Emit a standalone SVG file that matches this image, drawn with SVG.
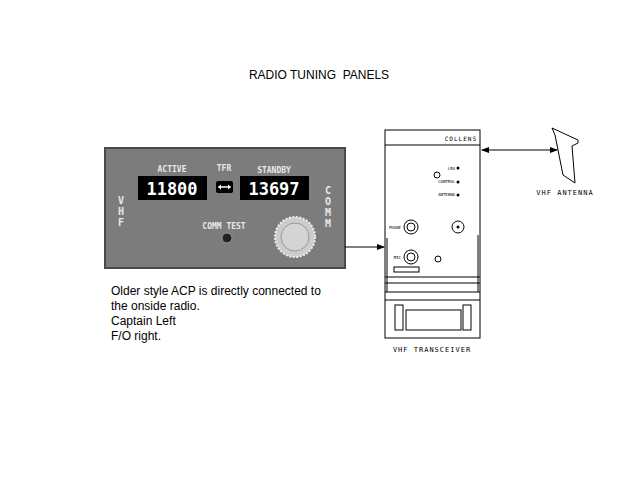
<svg xmlns="http://www.w3.org/2000/svg" width="638" height="478" viewBox="0 0 638 478">
<defs>
<style>
.t{font-family:"Liberation Sans",Arial,sans-serif;fill:#000}
.p{font-family:"DejaVu Sans Mono",monospace;font-weight:bold;fill:#e8e8e8;font-size:8px}
.v{font-family:"DejaVu Sans Mono",monospace;font-weight:bold;fill:#e8e8e8;font-size:10px}
.d{font-family:"DejaVu Sans Mono",monospace;font-weight:bold;fill:#fff;font-size:17px}
.s{font-family:"DejaVu Sans Mono",monospace;font-size:4px;fill:#000}
.m{font-family:"DejaVu Sans Mono",monospace;font-size:7px;fill:#000;letter-spacing:1px}
.ln{stroke:#000;stroke-width:1;fill:none}
</style>
<marker id="ah" markerWidth="8" markerHeight="6" refX="7" refY="3" orient="auto-start-reverse"><path d="M0,0L8,3L0,6z" fill="#000"/></marker>
</defs>
<rect width="638" height="478" fill="#fff"/>
<text class="t" x="319" y="79" font-size="12" text-anchor="middle" xml:space="preserve">RADIO TUNING  PANELS</text>
<g id="acp">
<rect x="105" y="148" width="240" height="120" fill="#7c7c7c" stroke="#4a4a4a" stroke-width="2"/>
<rect x="138" y="176" width="69" height="24" fill="#000"/>
<rect x="240" y="176" width="69" height="24" fill="#000"/>
<text class="d" x="172" y="195" text-anchor="middle">11800</text>
<text class="d" x="274" y="195" text-anchor="middle">13697</text>
<rect x="216" y="181" width="17" height="12" rx="2" fill="#000"/>
<path d="M218.5,187h12" stroke="#fff" stroke-width="1.5"/>
<path d="M218,187l3,-2.5v5z M231,187l-3,-2.5v5z" fill="#fff"/>
<text class="p" x="172" y="172" text-anchor="middle">ACTIVE</text>
<text class="p" x="224" y="171" text-anchor="middle">TFR</text>
<text class="p" x="274" y="173" text-anchor="middle">STANDBY</text>
<text class="p" x="224" y="229" text-anchor="middle">COMM TEST</text>
<text class="v" x="121" y="204" text-anchor="middle">V</text>
<text class="v" x="121" y="215" text-anchor="middle">H</text>
<text class="v" x="121" y="226" text-anchor="middle">F</text>
<text class="v" x="328" y="194" text-anchor="middle">C</text>
<text class="v" x="328" y="205" text-anchor="middle">O</text>
<text class="v" x="328" y="216" text-anchor="middle">M</text>
<text class="v" x="328" y="227" text-anchor="middle">M</text>
<circle cx="227" cy="238" r="5" fill="#222" stroke="#999"/>
<circle cx="295" cy="237" r="20" fill="#ccc" stroke="#eee" stroke-width="2" stroke-dasharray="2 1.5"/>
<circle cx="295" cy="237" r="14" fill="#d4d4d4" stroke="#999"/>
</g>
<g id="transceiver">
<rect x="385" y="130" width="95" height="208" fill="#fff" stroke="#000"/>
<line class="ln" x1="385" y1="145" x2="480" y2="145"/>
<text class="m" x="477" y="141" text-anchor="end" style="font-size:6px">COLLENS</text>
<text class="s" x="455" y="170" text-anchor="end">LRU</text>
<text class="s" x="455" y="183" text-anchor="end">CONTROL</text>
<text class="s" x="455" y="196" text-anchor="end">ANTENNA</text>
<circle cx="458" cy="168" r="1.5"/><circle cx="458" cy="182" r="1.5"/><circle cx="458" cy="195" r="1.5"/>
<circle cx="437" cy="175" r="3" class="ln"/>
<circle cx="411" cy="227" r="7" class="ln"/><circle cx="411" cy="227" r="4" class="ln"/>
<text class="s" x="401" y="229" text-anchor="end">PHONE</text>
<circle cx="458" cy="227" r="6" class="ln"/><circle cx="458" cy="227" r="1.5"/>
<circle cx="411" cy="257" r="7" class="ln"/><circle cx="411" cy="257" r="4" class="ln"/>
<text class="s" x="401" y="259" text-anchor="end">MIC</text>
<circle cx="438" cy="259" r="3" class="ln"/>
<rect x="394" y="267" width="25" height="5" class="ln"/>
<path class="ln" d="M387,238V292M478,235V292"/>
<path class="ln" d="M385,277H480M385,283H480M385,292H480M385,300H480"/>
<rect x="406" y="310" width="55" height="20" class="ln"/>
<rect x="395" y="305" width="8" height="25" class="ln"/>
<rect x="463" y="305" width="8" height="25" class="ln"/>
<text class="m" x="432" y="352" text-anchor="middle">VHF TRANSCEIVER</text>
</g>
<g id="antenna">
<path d="M552,128l26,12v3l-6,3l3,37l-12,-8l-8,-40z" fill="#fff" stroke="#000"/>
<text class="m" x="565" y="195" text-anchor="middle">VHF ANTENNA</text>
</g>
<g id="connectors">
<line class="ln" x1="345" y1="247" x2="384" y2="247" marker-end="url(#ah)"/>
<line class="ln" x1="482" y1="150" x2="557" y2="150" marker-start="url(#ah)" marker-end="url(#ah)"/>
</g>
<text class="t" font-size="12"><tspan x="111" y="295">Older style ACP is directly connected to</tspan><tspan x="111" y="310">the onside radio.</tspan><tspan x="111" y="325">Captain Left</tspan><tspan x="111" y="340">F/O right.</tspan></text>
</svg>
